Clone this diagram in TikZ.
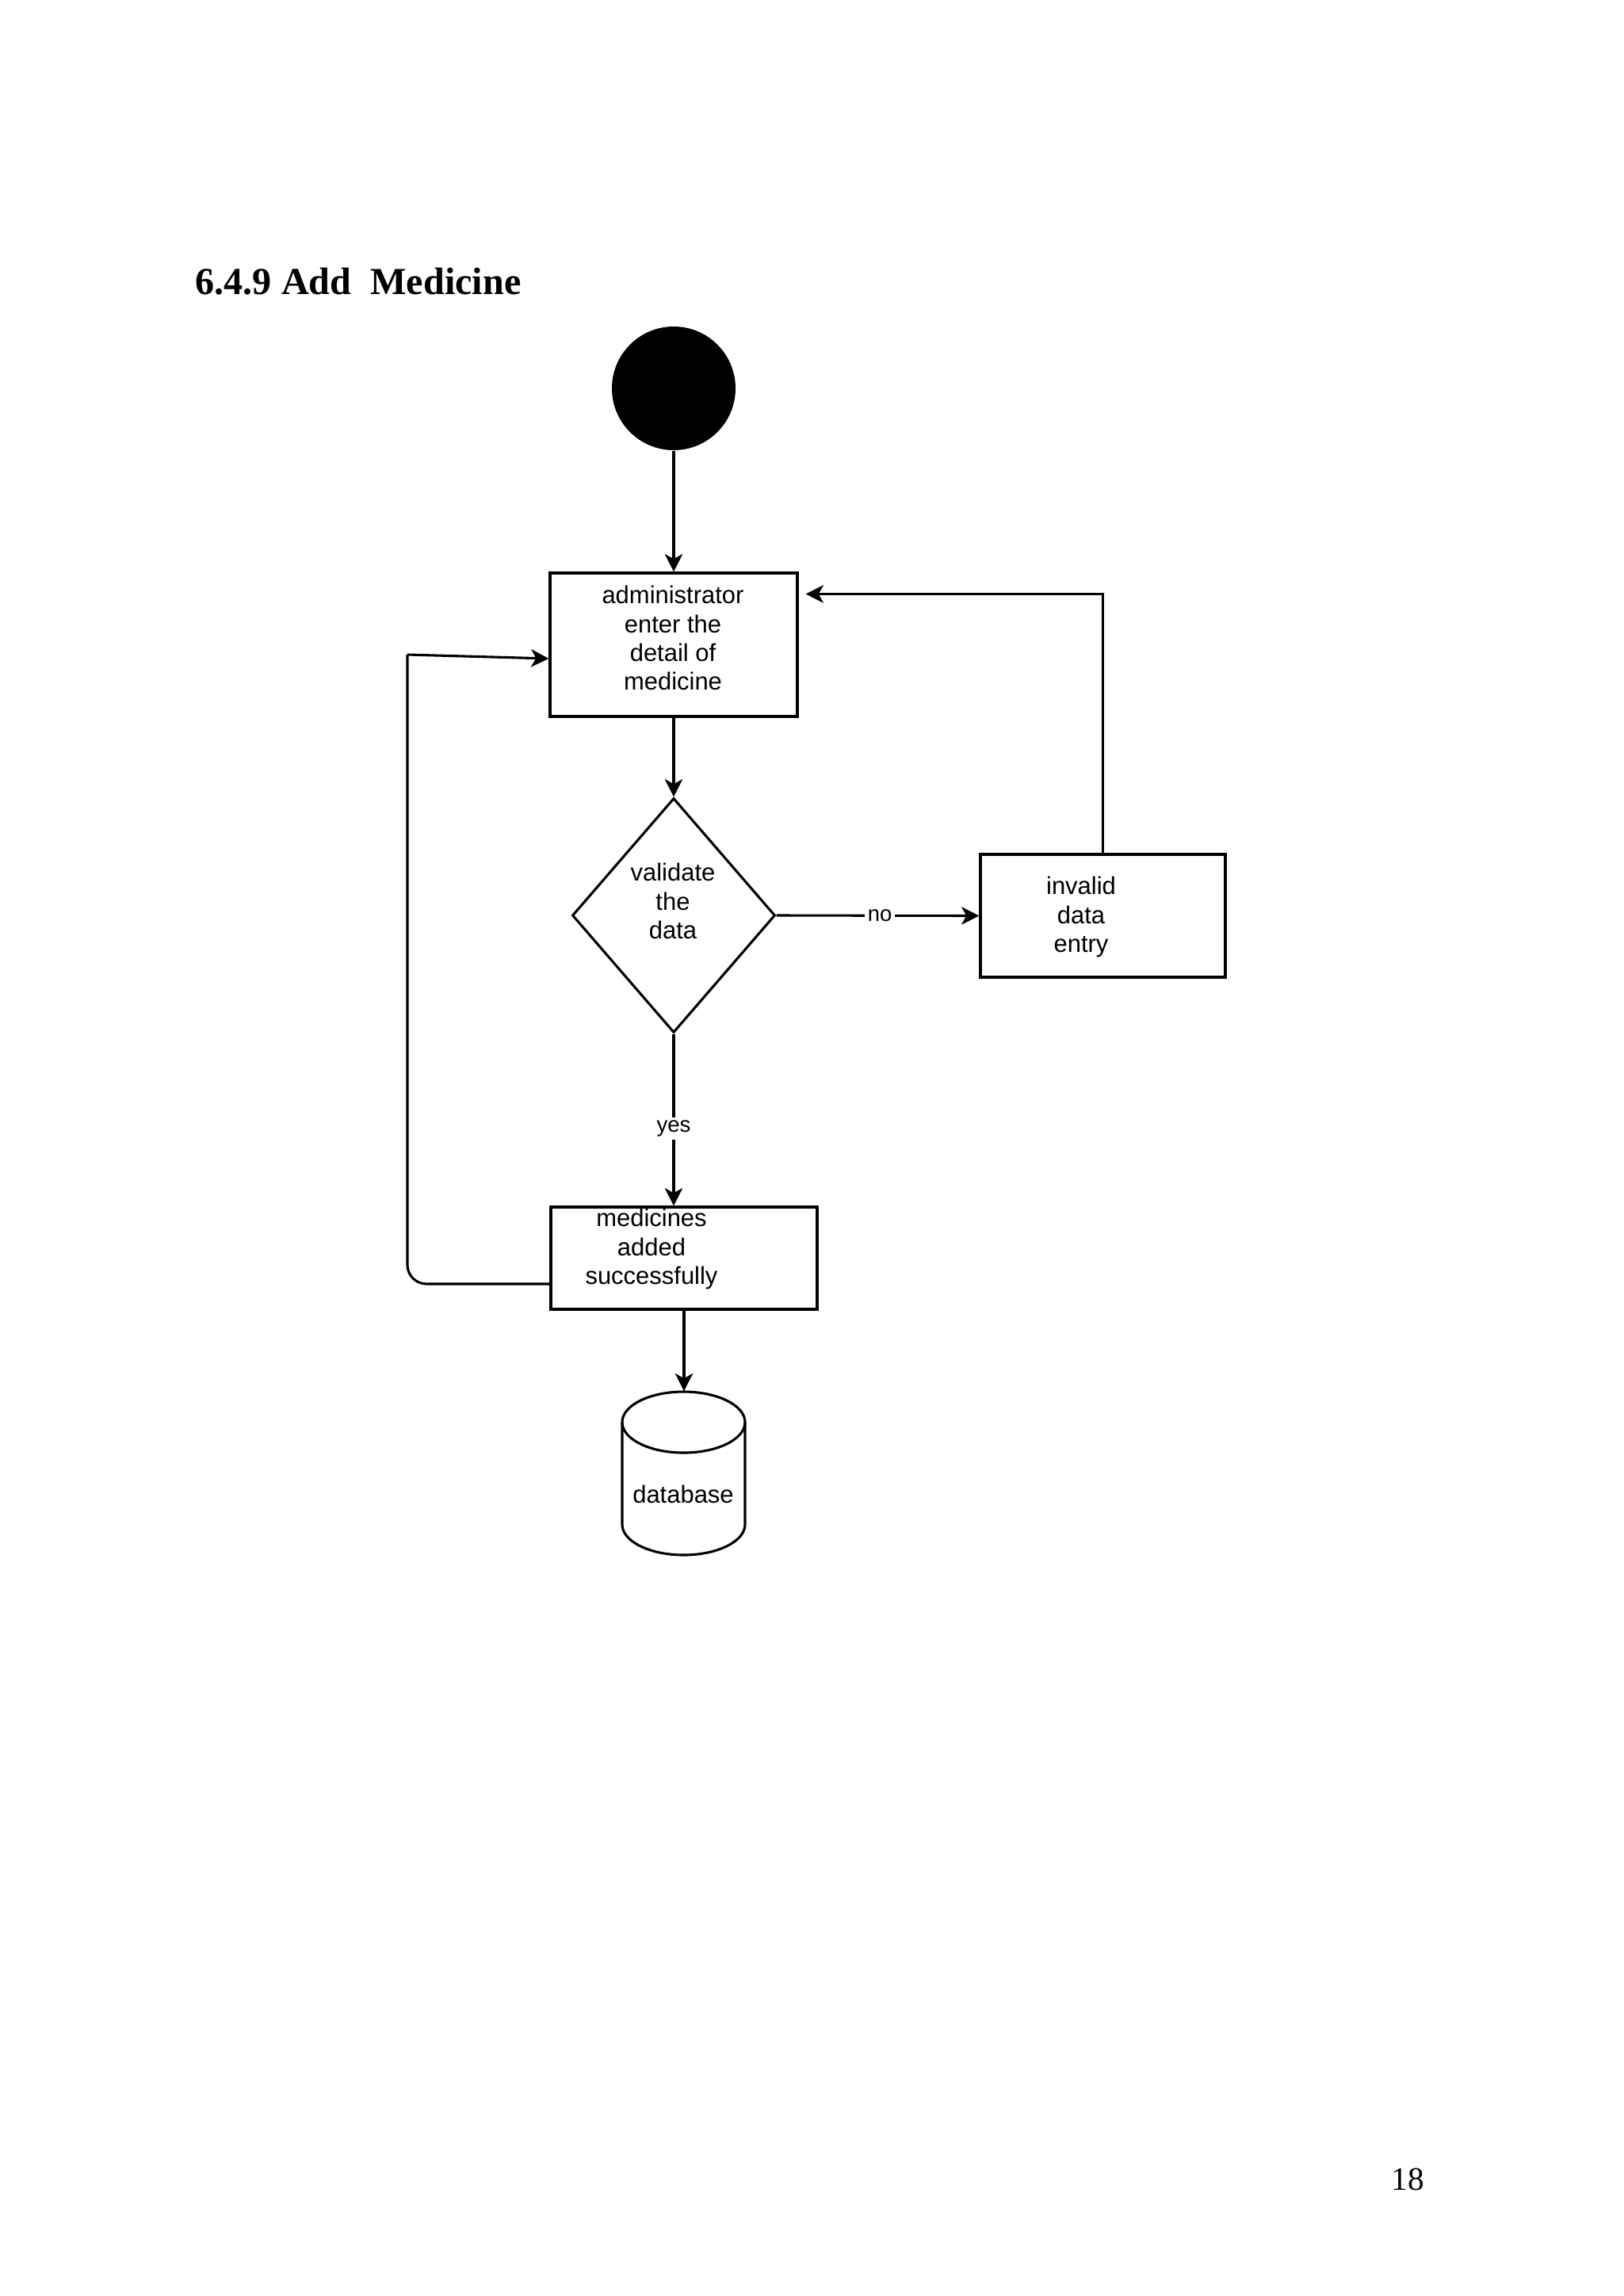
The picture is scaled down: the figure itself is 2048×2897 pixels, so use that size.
\documentclass[tikz,border=0pt]{standalone}
\usepackage{fontspec}
\setmainfont{Liberation Serif}
\newfontfamily\dsans{Liberation Sans}
\usetikzlibrary{arrows.meta,calc,shapes.geometric}
\newcommand\pxu{0.29066pt}
\begin{document}
\begin{tikzpicture}[x=0.29066pt,y=-0.29066pt,
  line/.style={line width=0.9pt, black},
  conn/.style={line, -{Stealth[length=6.5pt,width=6.5pt,inset=1.8pt]}},
  box/.style={draw, line width=0.9pt, rectangle, inner sep=0pt},
  txt/.style={font=\dsans\fontsize{9}{10.5}\selectfont, align=center, inner sep=0pt},
  lab/.style={font=\dsans\fontsize{8}{9.5}\selectfont, fill=white, inner sep=1pt},
]
\fill[white] (0,0) rectangle (2048,2897);
\useasboundingbox (0,0) rectangle (2048,2897);

\node[font=\fontsize{14}{17}\selectfont\bfseries, anchor=base west, inner sep=0pt] (title) at (246,371) {6.4.9 Add\ \ Medicine};
\node[font=\fontsize{12}{14}\selectfont, anchor=base west, inner sep=0pt] (pnum) at (1755,2763) {18};

\node[circle, fill=black, minimum size=156*\pxu, inner sep=0pt] (start) at (850,490) {};
\node[box, minimum width=312*\pxu, minimum height=181*\pxu] (adm) at (850,813.5) {};
\node[txt] (admT) at (849,805) {administrator\\enter the\\detail of\\medicine};

\node[diamond, draw, line width=0.9pt, minimum width=256*\pxu, minimum height=296*\pxu, inner sep=0pt] (val) at (850,1155) {};
\node[txt] (valT) at (849,1137) {validate\\the\\data};

\node[box, minimum width=309*\pxu, minimum height=155*\pxu] (inv) at (1391.5,1155.5) {};
\node[txt] (invT) at (1364,1157) {invalid\\data\\entry};

\node[box, minimum width=336*\pxu, minimum height=129*\pxu] (med) at (863,1587.5) {};
\node[txt] (medT) at (822,1576) {medicines\\added\\successfully};

\node[minimum width=155*\pxu, minimum height=206*\pxu, inner sep=0pt] (db) at (862.5,1859) {};
\node[txt] (dbT) at (862,1885) {database};
\draw[line] (862.5,1794.5) ellipse [x radius=77.5*\pxu, y radius=38.5*\pxu];
\draw[line] (785,1794.5) -- (785,1923.5) arc[start angle=180, end angle=360, x radius=77.5*\pxu, y radius=38.5*\pxu] -- (940,1794.5);

\draw[conn] (start.south) -- (adm.north);
\draw[conn] (adm.south) -- (val.north);
\draw[conn] (val.east) -- node[lab, pos=0.51]{no} (inv.west);
\draw[conn] (inv.north) |- ($(adm.east)+(9,-64)$);
\draw[conn] (val.south) -- node[lab, pos=0.55]{yes} (val.south |- med.north);
\draw[conn] (med.south) -- (med.south |- db.north);
\coordinate (lb) at (514,1620);
\coordinate (lt) at (514,826);
\draw[line, rounded corners=7pt] (med.west |- lb) -- (lb) -- (lt);
\draw[conn] (lt) -- ($(adm.west)+(0,17.5)$);
\end{tikzpicture}
\end{document}
